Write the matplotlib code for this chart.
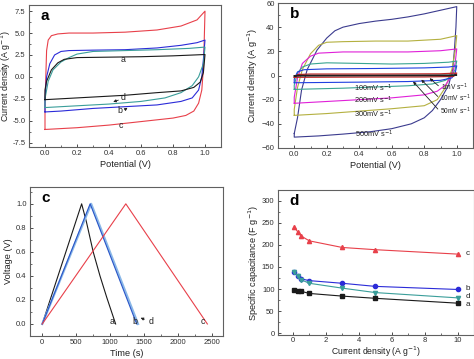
import matplotlib
matplotlib.use("Agg")
import matplotlib.pyplot as plt
from matplotlib.ticker import AutoMinorLocator

plt.rcParams['font.family'] = ['Liberation Sans', 'DejaVu Sans']

# ---------------- Panel a data (CV loops, 1 mV/s) ----------------
a_pot = [0.0, 0.0, 0.01, 0.04, 0.08, 0.12, 0.2, 0.4, 0.6, 0.8, 1.0,
         0.99, 0.97, 0.93, 0.85, 0.7, 0.5, 0.3, 0.0]
a_cur = [-2.6, -1.5, -0.5, 0.8, 1.6, 2.0, 2.2, 2.25, 2.3, 2.4, 2.55,
         0.5, -0.6, -1.2, -1.6, -1.8, -2.1, -2.3, -2.6]
b_pot = [0.0, 0.0, 0.01, 0.03, 0.06, 0.1, 0.15, 0.3, 0.5, 0.7, 0.85, 0.95, 1.0,
         0.99, 0.98, 0.96, 0.92, 0.85, 0.7, 0.5, 0.3, 0.1, 0.0]
b_cur = [-4.0, -2.5, 0.0, 1.5, 2.5, 2.9, 3.0, 3.05, 3.1, 3.3, 3.6, 3.9, 4.2,
         2.0, 0.0, -1.5, -2.4, -2.8, -3.2, -3.4, -3.6, -3.9, -4.0]
c_pot = [0.0, 0.0, 0.005, 0.01, 0.02, 0.04, 0.08, 0.15, 0.3, 0.5, 0.7, 0.85, 0.95, 1.0,
         0.995, 0.99, 0.98, 0.96, 0.93, 0.88, 0.8, 0.6, 0.4, 0.2, 0.0]
c_cur = [-6.0, -3.0, 0.0, 3.0, 4.2, 4.7, 4.9, 5.0, 5.0, 5.1, 5.35, 5.8, 6.5, 7.5,
         4.0, 1.0, -1.5, -3.0, -3.9, -4.4, -4.7, -5.1, -5.5, -5.8, -6.0]
d_pot = [0.0, 0.0, 0.02, 0.05, 0.1, 0.15, 0.2, 0.3, 0.5, 0.7, 0.9, 1.0,
         0.99, 0.96, 0.92, 0.85, 0.75, 0.6, 0.4, 0.2, 0.0]
d_cur = [-3.5, -2.5, -0.5, 0.8, 1.7, 2.2, 2.6, 2.9, 3.0, 3.1, 3.25, 3.4,
         1.5, 0.0, -1.0, -1.8, -2.4, -2.8, -3.1, -3.3, -3.5]

# ---------------- Panel b data (CV at different scan rates) ----------------
r500_pot = [0.0, 0.02, 0.045, 0.08, 0.14, 0.2, 0.25, 0.3, 0.4, 0.5, 0.6, 0.7, 0.8, 0.9, 1.0,
            0.995, 0.985, 0.975, 0.95, 0.9, 0.85, 0.8, 0.72, 0.6, 0.47, 0.3, 0.15, 0.0, 0.0]
r500_cur = [-48, -35, -12, 5, 21, 31, 37, 40, 43, 45, 46.5, 48.5, 51, 54, 57,
            40, 20, 5, -8, -20, -29, -35, -40, -44, -46.5, -48.5, -50, -51, -48]
r300_pot = [0.0, 0.0, 0.02, 0.05, 0.1, 0.15, 0.2, 0.3, 0.5, 0.7, 0.9, 1.0,
            0.99, 0.97, 0.93, 0.88, 0.8, 0.6, 0.4, 0.2, 0.0]
r300_cur = [-33, -28, -10, 5, 18, 25, 27.5, 28, 28.5, 28.5, 30, 33,
            20, 5, -10, -20, -25, -27.5, -29.5, -31.5, -33]
r200_pot = [0.0, 0.0, 0.02, 0.05, 0.1, 0.15, 0.3, 0.5, 0.7, 0.9, 1.0,
            0.99, 0.97, 0.93, 0.88, 0.8, 0.6, 0.4, 0.2, 0.0]
r200_cur = [-23, -18, -2, 10, 16, 18.5, 19.5, 19.5, 19.5, 20.5, 22,
            10, 0, -8, -13, -16, -18.5, -20, -21.5, -23]
r100_pot = [0.0, 0.0, 0.02, 0.05, 0.1, 0.2, 0.4, 0.6, 0.8, 0.95, 1.0,
            0.99, 0.97, 0.93, 0.85, 0.7, 0.5, 0.3, 0.0]
r100_cur = [-11.5, -8, 2, 7, 9.5, 10.5, 10, 9.5, 10, 11, 12,
            5, 0, -4, -7, -8.5, -9.5, -10.5, -11.5]
r50_pot = [0.0, 0.0, 0.02, 0.06, 0.2, 0.5, 0.8, 0.95, 1.0,
           0.99, 0.97, 0.9, 0.7, 0.4, 0.0]
r50_cur = [-6, -3, 3, 4.8, 5.5, 5.8, 6.3, 7, 8,
           2, -2, -4, -5, -5.5, -6]
r10_pot = [0.0, 0.02, 0.1, 0.5, 0.9, 1.0, 0.98, 0.8, 0.4, 0.0]
r10_cur = [-1.5, 0.8, 1.2, 1.2, 1.4, 2.0, -0.8, -1.2, -1.3, -1.5]
r1_pot = [0.0, 0.02, 0.5, 1.0, 0.98, 0.5, 0.0]
r1_cur = [-0.4, 0.1, 0.15, 0.4, -0.1, -0.2, -0.4]

# ---------------- Panel c data (GCD) ----------------
gcd_a_t = [0, 580, 650, 750, 850, 950, 1080]
gcd_a_v = [0.0, 1.0, 0.85, 0.6, 0.4, 0.22, 0.0]
gcd_b_t = [0, 705, 1390]
gcd_b_v = [0.0, 1.0, 0.0]
gcd_d_t = [0, 720, 1410]
gcd_d_v = [0.0, 1.0, 0.0]
gcd_c_t = [0, 1230, 2430]
gcd_c_v = [0.0, 1.0, 0.0]

# ---------------- Panel d data (rate capability) ----------------
current_density = [0.1, 0.3, 0.5, 1, 3, 5, 10]
cap_c = [240, 229, 220, 209, 194, 189, 179]
cap_b = [139, 129, 123, 119, 113, 106, 99]
cap_d = [138, 129, 121, 113, 102, 92, 80]
cap_a = [98, 96, 95, 90, 84, 79, 68]

COL_A = '#1a1a1a'
COL_B = '#2b2bd8'
COL_C = '#e8404a'
COL_D = '#3a9e9a'

W, H = 474, 359
fig = plt.figure(figsize=(W / 100, H / 100), dpi=100)


def box(l, t, r, b):
    return [l / W, (H - b) / H, (r - l) / W, (b - t) / H]


def style(ax):
    for s in ax.spines.values():
        s.set_color('#606060')
        s.set_linewidth(0.8)
    ax.tick_params(which='both', direction='in', labelsize=5.5, colors='#303030',
                   top=False, right=False)
    ax.tick_params(which='major', length=2.5, width=0.6, pad=2.5)
    ax.tick_params(which='minor', length=1.5, width=0.5)
    ax.xaxis.set_minor_locator(AutoMinorLocator(2))
    ax.yaxis.set_minor_locator(AutoMinorLocator(2))


lab_kw = dict(fontsize=6.6, color='#202020')
ann_kw = dict(fontsize=6.3, color='#202020')

# ---------------- a ----------------
ax = fig.add_axes(box(29, 5, 221, 147))
ax.plot(c_pot, c_cur, color=COL_C, lw=0.8)
ax.plot(b_pot, b_cur, color=COL_B, lw=0.8)
ax.plot(d_pot, d_cur, color=COL_D, lw=0.8)
ax.plot(a_pot, a_cur, color=COL_A, lw=0.8)
ax.set_xlim(-0.1, 1.1)
ax.set_ylim(-8.0, 8.2)
ax.set_xticks([0, 0.2, 0.4, 0.6, 0.8, 1.0])
ax.set_xticklabels(['0.0', '0.2', '0.4', '0.6', '0.8', '1.0'])
ax.set_yticks([-7.5, -5, -2.5, 0, 2.5, 5, 7.5])
ax.set_yticklabels(['-7.5', '-5.0', '-2.5', '0.0', '2.5', '5.0', '7.5'])
style(ax)
ax.set_xlabel('Potential (V)', labelpad=2, **lab_kw)
ax.set_ylabel('Current density (A g$^{-1}$)', fontsize=6.3, color='#202020')
ax.yaxis.set_label_coords(-0.082, 0.5)
ax.text(0.06, 0.97, 'a', transform=ax.transAxes, fontsize=11, fontweight='bold', va='top')
ax.text(0.47, 1.75, 'a', **ann_kw)
ax.text(0.47, -2.65, 'd', **ann_kw)
ax.annotate('', xy=(0.41, -2.95), xytext=(0.475, -2.55),
            arrowprops=dict(arrowstyle='-|>', color='#202020', lw=0.6, mutation_scale=4))
ax.text(0.455, -4.15, 'b', **ann_kw)
ax.annotate('', xy=(0.53, -3.35), xytext=(0.49, -3.85),
            arrowprops=dict(arrowstyle='-|>', color='#202020', lw=0.6, mutation_scale=4))
ax.text(0.46, -5.85, 'c', **ann_kw)

# ---------------- b ----------------
ax = fig.add_axes(box(278, 3, 473, 148))
ax.plot(r500_pot, r500_cur, color='#3b3b8e', lw=0.8)
ax.plot(r300_pot, r300_cur, color='#b4b040', lw=0.8)
ax.plot(r200_pot, r200_cur, color='#e020d8', lw=0.8)
ax.plot(r100_pot, r100_cur, color='#3aa592', lw=0.8)
ax.plot(r50_pot, r50_cur, color='#2040e0', lw=0.8)
ax.plot(r10_pot, r10_cur, color='#c02828', lw=0.9)
ax.plot(r1_pot, r1_cur, color='#202020', lw=0.9)
ax.set_xlim(-0.1, 1.1)
ax.set_ylim(-60, 60)
ax.set_xticks([0, 0.2, 0.4, 0.6, 0.8, 1.0])
ax.set_xticklabels(['0.0', '0.2', '0.4', '0.6', '0.8', '1.0'])
ax.set_yticks([-60, -40, -20, 0, 20, 40, 60])
style(ax)
ax.set_xlabel('Potential (V)', labelpad=2, **lab_kw)
ax.set_ylabel('Current density (A g$^{-1}$)', labelpad=1, **lab_kw)
ax.text(0.06, 0.97, 'b', transform=ax.transAxes, fontsize=11, fontweight='bold', va='top')
bk = dict(fontsize=5.3, color='#202020')
bkr = dict(fontsize=4.8, color='#202020')
ax.text(0.37, -13.0, '100mV s$^{-1}$', **bk)
ax.text(0.37, -23.5, '200mV s$^{-1}$', **bk)
ax.text(0.37, -34.5, '300mV s$^{-1}$', **bk)
ax.text(0.375, -51.5, '500mV s$^{-1}$', **bk)
ax.text(0.905, -12.5, '1mV s$^{-1}$', **bkr)
ax.text(0.9, -21.5, '10mV s$^{-1}$', **bkr)
ax.text(0.9, -32.5, '50mV s$^{-1}$', **bkr)
ak = dict(arrowstyle='-|>', color='#202020', lw=0.6, mutation_scale=4)
ax.annotate('', xy=(0.82, -0.8), xytext=(0.9, -10.0), arrowprops=ak)
ax.annotate('', xy=(0.77, -1.8), xytext=(0.895, -19.0), arrowprops=ak)
ax.annotate('', xy=(0.72, -3.3), xytext=(0.895, -29.5), arrowprops=ak)

# ---------------- c ----------------
ax = fig.add_axes(box(30, 187, 223, 336))
ax.plot(gcd_a_t, gcd_a_v, color=COL_A, lw=0.8)
ax.plot(gcd_d_t, gcd_d_v, color='#8ab8e8', lw=1.6)
ax.plot(gcd_b_t, gcd_b_v, color='#2a55c8', lw=0.8)
ax.plot(gcd_c_t, gcd_c_v, color=COL_C, lw=0.8)
ax.set_xlim(-180, 2660)
ax.set_ylim(-0.1, 1.14)
ax.set_xticks([0, 500, 1000, 1500, 2000, 2500])
ax.set_yticks([0, 0.2, 0.4, 0.6, 0.8, 1.0])
ax.set_yticklabels(['0.0', '0.2', '0.4', '0.6', '0.8', '1.0'])
style(ax)
ax.set_xlabel('Time (s)', labelpad=2, **lab_kw)
ax.set_ylabel('Voltage (V)', labelpad=2, **lab_kw)
ax.text(0.06, 0.97, 'c', transform=ax.transAxes, fontsize=11, fontweight='bold', va='top')
ax.text(990, 0.0, 'a', **ann_kw)
ax.text(1330, 0.0, 'b', **ann_kw)
ax.text(1560, 0.0, 'd', **ann_kw)
ax.annotate('', xy=(1410, 0.06), xytext=(1540, 0.03),
            arrowprops=dict(arrowstyle='-|>', color='#202020', lw=0.6, mutation_scale=4))
ax.text(2330, 0.0, 'c', **ann_kw)

# ---------------- d ----------------
ax = fig.add_axes(box(278, 190, 474, 335))
ax.plot(current_density, cap_c, color=COL_C, lw=0.8, marker='^', ms=3)
ax.plot(current_density, cap_b, color=COL_B, lw=0.8, marker='o', ms=3)
ax.plot(current_density, cap_d, color=COL_D, lw=0.8, marker='v', ms=3)
ax.plot(current_density, cap_a, color=COL_A, lw=0.8, marker='s', ms=2.6)
ax.set_xlim(-0.9, 11.0)
ax.set_ylim(-4, 324)
ax.set_xticks([0, 2, 4, 6, 8, 10])
ax.set_yticks([0, 50, 100, 150, 200, 250, 300])
style(ax)
ax.tick_params(axis='x', which='major', pad=1.5)
ax.set_xlabel('Current density (A g$^{-1}$)', labelpad=0.2, fontsize=6.2, color='#202020')
ax.set_ylabel('Specific capacitance (F g$^{-1}$)', labelpad=1, **lab_kw)
ax.text(0.06, 0.97, 'd', transform=ax.transAxes, fontsize=11, fontweight='bold', va='top')
dk = dict(fontsize=5.8, color='#202020', va='center')
ax.text(10.5, 180, 'c', **dk)
ax.text(10.5, 101, 'b', **dk)
ax.text(10.5, 82, 'd', **dk)
ax.text(10.5, 64, 'a', **dk)

fig.savefig('out.png', dpi=100)
